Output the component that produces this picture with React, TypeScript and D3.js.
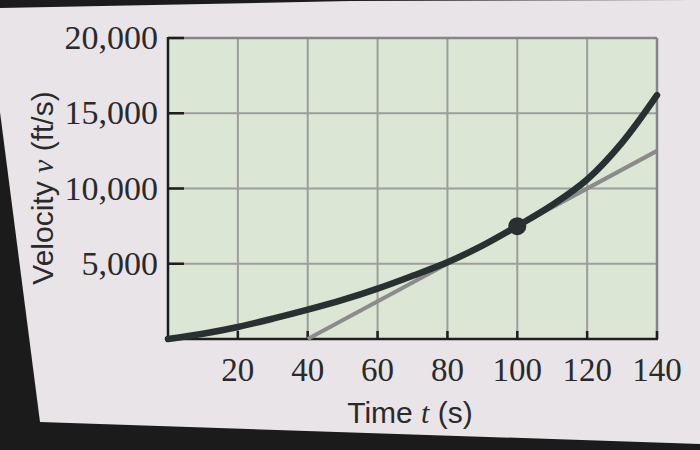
import * as d3 from "d3"

// data
const timeTicks = [20, 40, 60, 80, 100, 120, 140]
const velocityTicks = [5000, 10000, 15000, 20000]
const curveTime = [0, 10, 20, 30, 40, 50, 60, 70, 80, 90, 100, 110, 120, 130, 140]
const curveVelocity = [0, 350, 800, 1350, 1950, 2600, 3350, 4200, 5100, 6200, 7500, 8900, 10600, 13050, 16200]
const tangentTime = [40, 140]
const tangentVelocity = [0, 12500]
const pointTime = [100]
const pointVelocity = [7500]

const width = 700
const height = 450
const left = 168
const right = 657
const top = 38
const bottom = 339

export default function App() {
  const x = d3.scaleLinear().domain([0, 140]).range([left, right])
  const y = d3.scaleLinear().domain([0, 20000]).range([bottom, top])

  const curveLine = d3
    .line<number>()
    .x((d, i) => x(curveTime[i]))
    .y((d) => y(d))
    .curve(d3.curveCatmullRom)

  const tangentLine = d3
    .line<number>()
    .x((d, i) => x(tangentTime[i]))
    .y((d) => y(d))

  const serif = "'Liberation Serif', 'DejaVu Serif', serif"
  const sans = "'Liberation Sans', Arial, sans-serif"

  return (
    <svg width={width} height={height} style={{ display: "block", position: "absolute", left: 0, top: 0 }}>
      {/* photo background */}
      <rect width={width} height={height} fill="#1b1b1c" />
      <polygon points="0,8 350,1 700,0 700,444 40,422 0,112" fill="#e9e4e8" />

      {/* plot area */}
      <rect x={left} y={top} width={right - left} height={bottom - top} fill="#dce6d5" />

      {/* grid */}
      {timeTicks.map((t) => (
        <line key={"gx" + t} x1={x(t)} x2={x(t)} y1={top} y2={bottom} stroke="#9c9e9a" strokeWidth={2} />
      ))}
      {velocityTicks.map((v) => (
        <line key={"gy" + v} x1={left} x2={right} y1={y(v)} y2={y(v)} stroke="#9c9e9a" strokeWidth={2} />
      ))}
      <line x1={left} x2={right} y1={top} y2={top} stroke="#858785" strokeWidth={2.5} />
      <line x1={right} x2={right} y1={top} y2={bottom} stroke="#858785" strokeWidth={2.5} />

      {/* axes and ticks */}
      <line x1={left} x2={left} y1={top - 1} y2={bottom + 1} stroke="#1e1e1e" strokeWidth={2.5} />
      <line x1={left} x2={right + 1} y1={bottom} y2={bottom} stroke="#1e1e1e" strokeWidth={2.5} />
      {velocityTicks.map((v) => (
        <line key={"ty" + v} x1={left} x2={left + 16} y1={y(v)} y2={y(v)} stroke="#1e1e1e" strokeWidth={2.5} />
      ))}
      {timeTicks.map((t) => (
        <line key={"tx" + t} x1={x(t)} x2={x(t)} y1={bottom} y2={bottom - 8} stroke="#1e1e1e" strokeWidth={2.5} />
      ))}

      {/* tangent line */}
      <path d={tangentLine(tangentVelocity) ?? ""} fill="none" stroke="#8a8b8a" strokeWidth={4} />

      {/* velocity curve */}
      <path d={curveLine(curveVelocity) ?? ""} fill="none" stroke="#283131" strokeWidth={6.5} strokeLinecap="round" />

      {/* point of tangency */}
      {pointTime.map((t, i) => (
        <circle key={"p" + t} cx={x(t)} cy={y(pointVelocity[i])} r={9} fill="#283131" />
      ))}

      {/* tick labels */}
      {velocityTicks.map((v) => (
        <text
          key={"ly" + v}
          x={left - 10}
          y={y(v) + 11}
          textAnchor="end"
          fontFamily={serif}
          fontSize={34}
          fill="#2a2a2a"
        >
          {d3.format(",")(v)}
        </text>
      ))}
      {timeTicks.map((t) => (
        <text
          key={"lx" + t}
          x={x(t)}
          y={bottom + 42}
          textAnchor="middle"
          fontFamily={serif}
          fontSize={33}
          fill="#2a2a2a"
        >
          {t}
        </text>
      ))}

      {/* axis titles */}
      <text x={410} y={423} textAnchor="middle" fontFamily={sans} fontSize={30} fill="#2a2a2a">
        Time <tspan fontFamily={serif} fontStyle="italic">t</tspan> (s)
      </text>
      <text
        transform={`translate(53,188) rotate(-90)`}
        textAnchor="middle"
        fontFamily={sans}
        fontSize={30}
        fill="#2a2a2a"
      >
        Velocity <tspan fontFamily={serif} fontStyle="italic">v</tspan> (ft/s)
      </text>
    </svg>
  )
}
